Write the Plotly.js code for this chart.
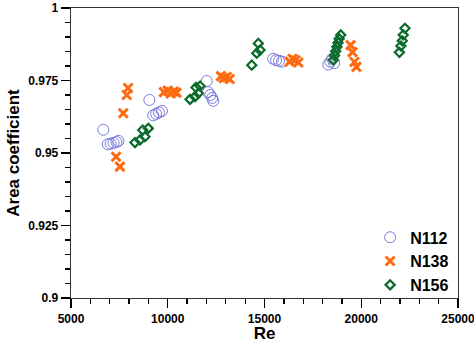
<!DOCTYPE html>
<html>
<head>
<meta charset="utf-8">
<script src="https://cdn.plot.ly/plotly-3.0.1.min.js"></script>
<style>html,body{margin:0;padding:0;background:#fff;}#chart{width:474px;height:343px;}</style>
</head>
<body>
<div id="chart"></div>
<script>
const n112X = [6670, 6900, 7050, 7200, 7350, 7450, 9050, 9250, 9400, 9550, 9700, 12010, 12080, 12200, 12300, 12350, 15450, 15600, 15750, 15900, 18300, 18400, 18500, 18600];
const n112Y = [0.958, 0.9530, 0.9532, 0.9535, 0.9538, 0.9542, 0.9683, 0.9630, 0.9635, 0.9640, 0.9645, 0.9748, 0.9710, 0.9700, 0.9690, 0.9680, 0.9825, 0.9820, 0.9818, 0.9815, 0.9805, 0.9815, 0.9825, 0.9810];

const n138X = [7330, 7530, 7700, 7880, 7950, 9800, 10000, 10150, 10300, 10450, 12750, 12900, 13050, 13200, 16300, 16450, 16600, 16750, 19450, 19550, 19650, 19750];
const n138Y = [0.9487, 0.9453, 0.9637, 0.9700, 0.9724, 0.9710, 0.9715, 0.9705, 0.9712, 0.9708, 0.9765, 0.9758, 0.9762, 0.9755, 0.9815, 0.9825, 0.9820, 0.9812, 0.9872, 0.9848, 0.9814, 0.9797];

const n156X = [8307, 8566, 8824, 8705, 8995, 11150, 11410, 11580, 11460, 11670, 14340, 14600, 14770, 14680, 18560, 18620, 18680, 18740, 18800, 18860, 18940, 21970, 22050, 22120, 22170, 22260];
const n156Y = [0.9536, 0.9545, 0.9556, 0.9579, 0.9585, 0.9685, 0.9694, 0.9706, 0.9726, 0.9731, 0.9803, 0.9844, 0.9855, 0.9878, 0.9821, 0.9836, 0.9851, 0.9866, 0.9880, 0.9894, 0.9907, 0.9847, 0.9869, 0.9887, 0.9907, 0.9930];

const xTicks = [5000, 10000, 15000, 20000, 25000];
const yTicks = [0.9, 0.925, 0.95, 0.975, 1];
const yTickText = ['0.9', '0.925', '0.95', '0.975', '1'];

const FONT = 'Liberation Sans, Arial, sans-serif';

const traces = [
  {x: n112X, y: n112Y, name: 'N112', type: 'scatter', mode: 'markers',
   marker: {symbol: 'circle-open', size: 11, color: '#7a7ade', line: {width: 1, color: '#7a7ade'}}},
  {x: n138X, y: n138Y, name: 'N138', type: 'scatter', mode: 'markers',
   marker: {symbol: 'x-thin-open', size: 9, color: '#ff6a10', line: {width: 3, color: '#ff6a10'}}},
  {x: n156X, y: n156Y, name: 'N156', type: 'scatter', mode: 'markers',
   marker: {symbol: 'diamond-open', size: 7, color: '#0a6b2a', line: {width: 2.2, color: '#0a6b2a'}}}
];

const layout = {
  width: 474, height: 343,
  margin: {l: 71, r: 16, t: 8, b: 45},
  paper_bgcolor: '#fff', plot_bgcolor: '#fff',
  showlegend: true,
  legend: {x: 0.99, y: -0.015, xanchor: 'right', yanchor: 'bottom', bgcolor: 'rgba(0,0,0,0)',
           font: {family: FONT, size: 16, color: '#000', weight: 'bold'}, itemwidth: 30, tracegroupgap: 0},
  xaxis: {
    range: [5000, 25000], tickvals: xTicks, ticktext: xTicks.map(String),
    ticks: 'outside', ticklen: 9, tickwidth: 1.3, tickcolor: '#000', ticklabeloverflow: 'allow',
    minor: {dtick: 1000, ticks: 'outside', ticklen: 5, tickwidth: 1.3, tickcolor: '#000'},
    showgrid: false, zeroline: false, showline: true, linecolor: '#333', linewidth: 1.3, mirror: true,
    tickfont: {family: FONT, size: 12, color: '#000', weight: 'bold'},
    title: {text: 'Re', font: {family: FONT, size: 17, color: '#000', weight: 'bold'}, standoff: 2}
  },
  yaxis: {
    range: [0.9, 1], tickvals: yTicks, ticktext: yTickText,
    ticks: 'outside', ticklen: 9, tickwidth: 1.3, tickcolor: '#000',
    minor: {dtick: 0.005, ticks: 'outside', ticklen: 5, tickwidth: 1.3, tickcolor: '#000'},
    showgrid: false, zeroline: false, showline: true, linecolor: '#333', linewidth: 1.3, mirror: true,
    tickfont: {family: FONT, size: 12, color: '#000', weight: 'bold'},
    title: {text: 'Area coefficient', font: {family: FONT, size: 17, color: '#000', weight: 'bold'}, standoff: 4}
  }
};

Plotly.newPlot('chart', traces, layout, {displayModeBar: false, staticPlot: true});
</script>
</body>
</html>
